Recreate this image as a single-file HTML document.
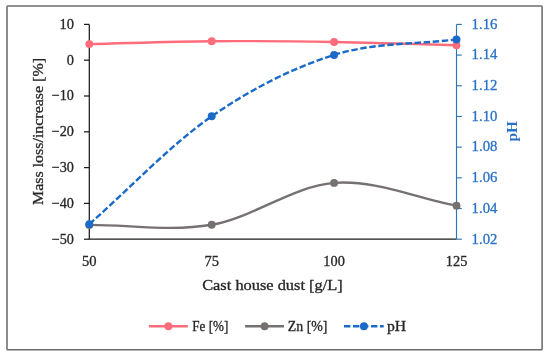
<!DOCTYPE html><html><head><meta charset="utf-8"><title>Chart</title><style>html,body{margin:0;padding:0;background:#fff}svg{display:block}text{font-family:"Liberation Serif",serif;font-size:14px;stroke-width:0.3px;paint-order:stroke fill}</style></head><body>
<svg width="550" height="357" viewBox="0 0 550 357">
<rect x="0" y="0" width="550" height="357" fill="#fff"/>
<rect x="7" y="6" width="535.1" height="343.8" rx="0.8" fill="none" stroke="#6c6c6c" stroke-width="1.55"/>
<g stroke="#1c1c1c" stroke-width="1.25" fill="none">
<path d="M89.3 24.4 V239.2 H456.5"/>
<path d="M84.0 239.20 H89.3"/>
<path d="M84.0 203.40 H89.3"/>
<path d="M84.0 167.60 H89.3"/>
<path d="M84.0 131.80 H89.3"/>
<path d="M84.0 96.00 H89.3"/>
<path d="M84.0 60.20 H89.3"/>
<path d="M84.0 24.40 H89.3"/>
</g>
<g stroke="#2e75b6" stroke-width="1.15" fill="none">
<path d="M456.5 24.4 V239.2"/>
<path d="M456.5 239.20 H461.8"/>
<path d="M456.5 208.51 H461.8"/>
<path d="M456.5 177.83 H461.8"/>
<path d="M456.5 147.14 H461.8"/>
<path d="M456.5 116.46 H461.8"/>
<path d="M456.5 85.77 H461.8"/>
<path d="M456.5 55.09 H461.8"/>
<path d="M456.5 24.40 H461.8"/>
</g>
<text x="51.7" y="243.5" text-anchor="start" fill="#262626" stroke="#262626" textLength="22.2" lengthAdjust="spacingAndGlyphs" font-size="14.5">−50</text>
<text x="51.7" y="207.7" text-anchor="start" fill="#262626" stroke="#262626" textLength="22.2" lengthAdjust="spacingAndGlyphs" font-size="14.5">−40</text>
<text x="51.7" y="171.9" text-anchor="start" fill="#262626" stroke="#262626" textLength="22.2" lengthAdjust="spacingAndGlyphs" font-size="14.5">−30</text>
<text x="51.7" y="136.1" text-anchor="start" fill="#262626" stroke="#262626" textLength="22.2" lengthAdjust="spacingAndGlyphs" font-size="14.5">−20</text>
<text x="51.7" y="100.3" text-anchor="start" fill="#262626" stroke="#262626" textLength="22.2" lengthAdjust="spacingAndGlyphs" font-size="14.5">−10</text>
<text x="66.7" y="64.5" text-anchor="start" fill="#262626" stroke="#262626" textLength="7.2" lengthAdjust="spacingAndGlyphs" font-size="14.5">0</text>
<text x="59.4" y="28.7" text-anchor="start" fill="#262626" stroke="#262626" textLength="14.5" lengthAdjust="spacingAndGlyphs" font-size="14.5">10</text>
<text x="471.6" y="243.5" text-anchor="start" fill="#2a72c6" stroke="#2a72c6" textLength="25.8" lengthAdjust="spacingAndGlyphs" font-size="14.5">1.02</text>
<text x="471.6" y="212.8" text-anchor="start" fill="#2a72c6" stroke="#2a72c6" textLength="25.8" lengthAdjust="spacingAndGlyphs" font-size="14.5">1.04</text>
<text x="471.6" y="182.1" text-anchor="start" fill="#2a72c6" stroke="#2a72c6" textLength="25.8" lengthAdjust="spacingAndGlyphs" font-size="14.5">1.06</text>
<text x="471.6" y="151.4" text-anchor="start" fill="#2a72c6" stroke="#2a72c6" textLength="25.8" lengthAdjust="spacingAndGlyphs" font-size="14.5">1.08</text>
<text x="471.6" y="120.8" text-anchor="start" fill="#2a72c6" stroke="#2a72c6" textLength="25.8" lengthAdjust="spacingAndGlyphs" font-size="14.5">1.10</text>
<text x="471.6" y="90.1" text-anchor="start" fill="#2a72c6" stroke="#2a72c6" textLength="25.8" lengthAdjust="spacingAndGlyphs" font-size="14.5">1.12</text>
<text x="471.6" y="59.4" text-anchor="start" fill="#2a72c6" stroke="#2a72c6" textLength="25.8" lengthAdjust="spacingAndGlyphs" font-size="14.5">1.14</text>
<text x="471.6" y="28.7" text-anchor="start" fill="#2a72c6" stroke="#2a72c6" textLength="25.8" lengthAdjust="spacingAndGlyphs" font-size="14.5">1.16</text>
<text x="82.0" y="265.6" text-anchor="start" fill="#262626" stroke="#262626" textLength="14.5" lengthAdjust="spacingAndGlyphs" font-size="14.5">50</text>
<text x="204.4" y="265.6" text-anchor="start" fill="#262626" stroke="#262626" textLength="14.5" lengthAdjust="spacingAndGlyphs" font-size="14.5">75</text>
<text x="323.3" y="265.6" text-anchor="start" fill="#262626" stroke="#262626" textLength="21.5" lengthAdjust="spacingAndGlyphs" font-size="14.5">100</text>
<text x="445.8" y="265.6" text-anchor="start" fill="#262626" stroke="#262626" textLength="21.5" lengthAdjust="spacingAndGlyphs" font-size="14.5">125</text>
<text x="202.2" y="290.2" text-anchor="start" fill="#262626" stroke="#262626" textLength="140.5" lengthAdjust="spacingAndGlyphs">Cast house dust [g/L]</text>
<text transform="translate(42.6 205) rotate(-90)" fill="#262626" stroke="#262626" textLength="147" lengthAdjust="spacingAndGlyphs">Mass loss/increase [%]</text>
<text transform="translate(517.2 141.4) rotate(-90)" fill="#2a72c6" stroke="none" font-weight="bold" textLength="20.4" lengthAdjust="spacingAndGlyphs">pH</text>
<path d="M89.30 44.09 C130.10 43.12 170.90 41.53 211.70 41.19 C252.50 40.85 293.30 41.36 334.10 42.03 C374.90 42.70 415.70 44.14 456.50 45.20" fill="none" stroke="#ff6d7b" stroke-width="2.4" stroke-linecap="round"/>
<circle cx="89.30" cy="44.09" r="3.95" fill="#ff6d7b"/>
<circle cx="211.70" cy="41.19" r="3.95" fill="#ff6d7b"/>
<circle cx="334.10" cy="42.03" r="3.95" fill="#ff6d7b"/>
<circle cx="456.50" cy="45.20" r="3.95" fill="#ff6d7b"/>
<path d="M89.30 224.88 C130.10 224.84 170.90 231.77 211.70 224.77 C252.50 217.77 293.30 186.07 334.10 182.89 C374.90 179.70 415.70 198.07 456.50 205.66" fill="none" stroke="#767171" stroke-width="2.4" stroke-linecap="round"/>
<circle cx="89.30" cy="224.88" r="3.95" fill="#767171"/>
<circle cx="211.70" cy="224.77" r="3.95" fill="#767171"/>
<circle cx="334.10" cy="182.89" r="3.95" fill="#767171"/>
<circle cx="456.50" cy="205.66" r="3.95" fill="#767171"/>
<path d="M89.30 224.16 C130.10 188.21 170.90 144.51 211.70 116.30 C252.50 88.10 293.30 67.74 334.10 54.93 C374.90 42.12 415.70 44.60 456.50 39.44" fill="none" stroke="#1a6ac9" stroke-width="2.4" stroke-dasharray="6.5 2.6" stroke-linecap="butt"/>
<circle cx="89.30" cy="224.16" r="3.95" fill="#1a6ac9"/>
<circle cx="211.70" cy="116.30" r="3.95" fill="#1a6ac9"/>
<circle cx="334.10" cy="54.93" r="3.95" fill="#1a6ac9"/>
<circle cx="456.50" cy="39.44" r="3.95" fill="#1a6ac9"/>
<path d="M148.9 326.3 H187.8" stroke="#ff6d7b" stroke-width="2.4" fill="none"/>
<circle cx="168.4" cy="326.3" r="3.95" fill="#ff6d7b"/>
<text x="192.3" y="330.6" text-anchor="start" fill="#262626" stroke="#262626" textLength="36.0" lengthAdjust="spacingAndGlyphs">Fe [%]</text>
<path d="M245.1 326.3 H284.0" stroke="#767171" stroke-width="2.4" fill="none"/>
<circle cx="264.6" cy="326.3" r="3.95" fill="#767171"/>
<text x="287.8" y="330.6" text-anchor="start" fill="#262626" stroke="#262626" textLength="39.7" lengthAdjust="spacingAndGlyphs">Zn [%]</text>
<path d="M344.0 326.3 H383.7" stroke="#1a6ac9" stroke-width="2.4" fill="none" stroke-dasharray="6.4 2.6"/>
<circle cx="363.9" cy="326.3" r="3.95" fill="#1a6ac9"/>
<text x="387.0" y="330.6" text-anchor="start" fill="#262626" stroke="#262626" textLength="19.2" lengthAdjust="spacingAndGlyphs">pH</text>
</svg></body></html>
